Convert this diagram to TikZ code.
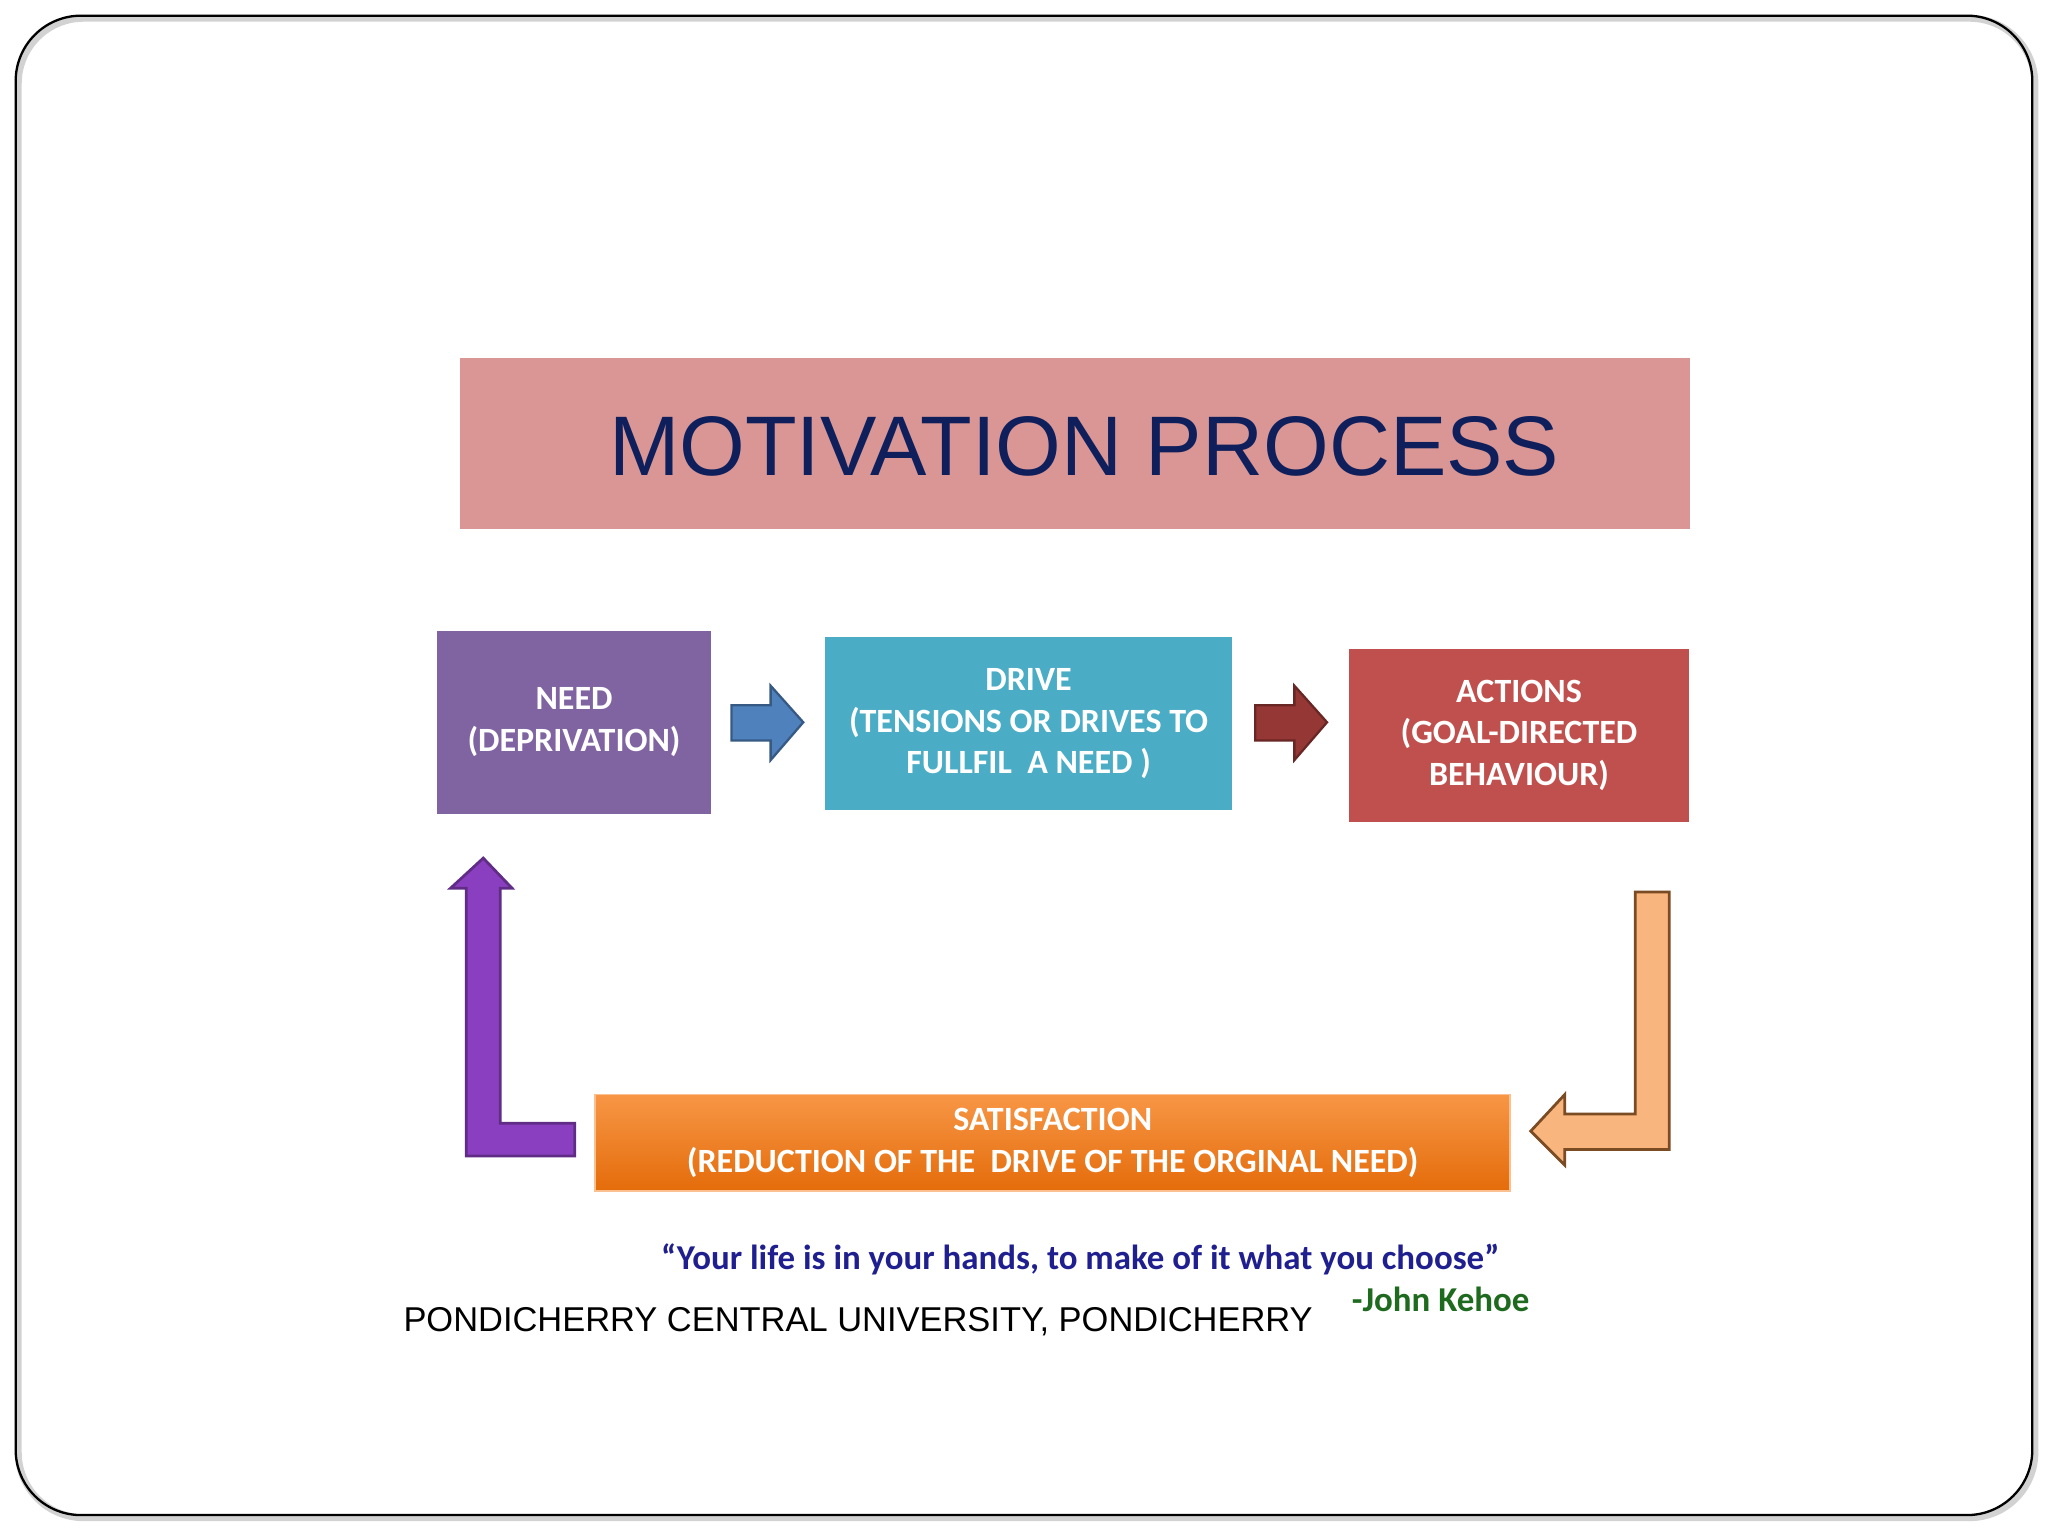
\documentclass[tikz,border=0pt]{standalone}
\usepackage{fontspec}
\setmainfont{Carlito}
\newfontfamily\arialfont{Liberation Sans}
\definecolor{titlepink}{HTML}{D99694}
\definecolor{titlenavy}{HTML}{0F1F5C}
\definecolor{needpurple}{HTML}{8064A2}
\definecolor{driveblue}{HTML}{4BACC6}
\definecolor{stepblue}{HTML}{4F81BD}
\definecolor{actred}{HTML}{C0504D}
\definecolor{stepred}{HTML}{953735}
\definecolor{satorange}{HTML}{F79646}
\definecolor{satdark}{HTML}{E46C0A}
\definecolor{loopviolet}{HTML}{8A3FC0}
\definecolor{quotenavy}{HTML}{1F1F8F}
\definecolor{kehoegreen}{HTML}{1E6A1E}
\tikzset{
	box/.style={draw=none,align=center,text=white,font=\fontsize{7.4}{9.1}\selectfont\bfseries,inner sep=0pt},
	step/.style={fill=#1,draw=#1!70!black,line width=0.5pt}
}
\begin{document}
\begin{tikzpicture}[x=0.01cm,y=-0.01cm]
	\useasboundingbox (0,0) rectangle (1568,1176);
	\draw[gray!35,line width=1.5pt,rounded corners=0.5cm] (14,14) rectangle (1558,1162);
	\draw[black,line width=0.5pt,rounded corners=0.5cm] (12,12) rectangle (1556,1160);
	% title
	\fill[titlepink] (352,274) rectangle (1294,405);
	\node[text=titlenavy,font=\arialfont\fontsize{18.4}{22}\selectfont] (title) at (830,342) {MOTIVATION PROCESS};
	% process boxes
	\node[box,fill=needpurple,minimum width=2.09cm,minimum height=1.40cm] (need) at (439.5,553) {NEED\\(DEPRIVATION)};
	\node[box,fill=driveblue,minimum width=3.11cm,minimum height=1.32cm] (drive) at (787.5,554) {DRIVE\\(TENSIONS OR DRIVES TO\\FULLFIL\ \ A NEED )};
	\node[box,fill=actred,minimum width=2.60cm,minimum height=1.32cm] (actions) at (1163,563) {ACTIONS\\(GOAL-DIRECTED\\BEHAVIOUR)};
	\node[box,top color=satorange,bottom color=satdark,draw=satorange!60,minimum width=7.00cm,minimum height=0.74cm] (satisfaction) at (806,875) {SATISFACTION\\(REDUCTION OF THE\ \ DRIVE OF THE ORGINAL NEED)};
	% arrows between boxes
	\filldraw[step=stepblue] (560,540) -- (590,540) -- (590,525) -- (615,553) -- (590,582) -- (590,567) -- (560,567) -- cycle;
	\filldraw[step=stepred] (961,540) -- (991,540) -- (991,525) -- (1016,553) -- (991,582) -- (991,567) -- (961,567) -- cycle;
	\filldraw[fill=satorange!70,draw=satorange!50!black,line width=0.6pt] (1252,683) -- (1278,683) -- (1278,880) -- (1198,880) -- (1198,892) -- (1172,866) -- (1198,838) -- (1198,853) -- (1252,853) -- cycle;
	\filldraw[fill=loopviolet,draw=loopviolet!70!black,line width=0.6pt] (370,657) -- (392,680) -- (383,680) -- (383,860) -- (440,860) -- (440,885) -- (357,885) -- (357,680) -- (345,680) -- cycle;
	% quote and footer
	\node[text=quotenavy,font=\fontsize{7.6}{9}\selectfont\bfseries] (quote) at (827,964) {“Your life is in your hands, to make of it what you choose”};
	\node[text=kehoegreen,font=\fontsize{7.6}{9}\selectfont\bfseries] (kehoe) at (1103,995) {-John Kehoe};
	\node[font=\arialfont\fontsize{7.5}{10}\selectfont] (footer) at (657,1012) {PONDICHERRY CENTRAL UNIVERSITY, PONDICHERRY};
\end{tikzpicture}
\end{document}
